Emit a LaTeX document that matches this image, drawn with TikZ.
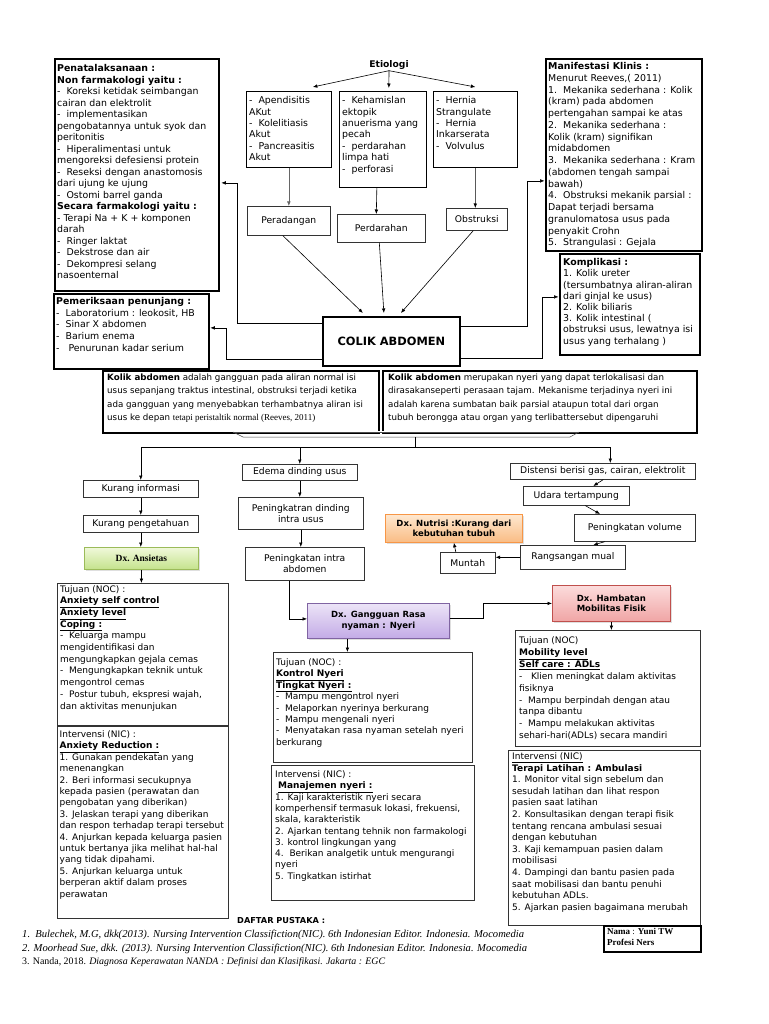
\documentclass[tikz,border=0pt]{standalone}
\usepackage{fontspec}
\setmainfont{DejaVu Sans}
\newfontfamily\tms{Liberation Serif}
\usetikzlibrary{arrows.meta,shadows,calc}
\definecolor{gtop}{HTML}{F0F9DA}\definecolor{gbot}{HTML}{C4E28C}\definecolor{gbd}{HTML}{9BBB59}
\definecolor{ptop}{HTML}{ECE4F7}\definecolor{pbot}{HTML}{C3ABE6}\definecolor{pbd}{HTML}{8064A2}
\definecolor{rtop}{HTML}{FCDCDC}\definecolor{rbot}{HTML}{F0A5A5}\definecolor{rbd}{HTML}{C0504D}
\definecolor{otop}{HTML}{FEE8D0}\definecolor{obot}{HTML}{F9BC84}\definecolor{obd}{HTML}{F79646}
\newcommand\mybox[6]{\node[#6, anchor=north west, minimum width={(#4-#2)*1pt}, minimum height={(#5-#3)*1pt}, inner sep=0pt] (#1) at (#2,#3) {};}
\newcommand\mytbox[7]{\node[#6, anchor=north west, minimum width={(#4-#2)*1pt}, minimum height={(#5-#3)*1pt}, inner sep=0pt] (#1) at (#2,#3) {#7};}
\tikzset{
  thk/.style={draw=black, line width=1.8pt, fill=white},
  thn/.style={draw=black, line width=0.7pt, fill=white},
  gb/.style={draw=black!80, line width=0.6pt, fill=white},
  flow/.style={draw=black!80, line width=0.6pt, fill=white, align=center, font=\fontsize{9.2}{11.4}\selectfont},
  txt/.style={anchor=north west, inner sep=0pt, align=left, execute at begin node={\rule{0pt}{7.1pt}}},
  arr/.style={-{Latex[length=4.5pt,width=3.6pt]}, line width=0.6pt, draw=black},
  ln/.style={line width=0.6pt, draw=black},
  dxs/.style={line width=0.8pt, align=center, drop shadow={opacity=0.25, shadow xshift=1.2pt, shadow yshift=-1.2pt}, font=\bfseries\fontsize{8.5}{10.6}\selectfont},
  dxg/.style={dxs, draw=gbd, top color=gtop, bottom color=gbot},
  dxp/.style={dxs, draw=pbd, top color=ptop, bottom color=pbot},
  dxr/.style={dxs, draw=rbd, top color=rtop, bottom color=rbot},
  dxo/.style={dxs, draw=obd, top color=otop, bottom color=obot},
}
\begin{document}
\begin{tikzpicture}[x=1pt,y=-1pt]
\useasboundingbox[fill=white] (0,0) rectangle (768,1024);

% ---------- top left
\mybox{pen}{54}{58}{218}{290}{thk}
\node[txt, font=\fontsize{9.4}{11.5}\selectfont] (pent) at (57,64.4) {\textbf{Penatalaksanaan :}\\
\textbf{Non farmakologi yaitu :}\\
-\ \ Koreksi ketidak seimbangan\\
cairan dan elektrolit\\
-\ \ implementasikan\\
pengobatannya untuk syok dan\\
peritonitis\\
-\ \ Hiperalimentasi untuk\\
mengoreksi defesiensi protein\\
-\ \ Reseksi dengan anastomosis\\
dari ujung ke ujung\\
-\ \ Ostomi barrel ganda\\
\textbf{Secara farmakologi yaitu :}\\
- Terapi Na + K + komponen\\
darah\\
-\ \ Ringer laktat\\
-\ \ Dekstrose dan air\\
-\ \ Dekompresi selang\\
nasoenternal};

\mybox{pem}{53}{293}{208}{368}{thk}
\node[txt, font=\fontsize{9.4}{11.6}\selectfont] (pemt) at (56,297.4) {\textbf{Pemeriksaan penunjang :}\\
-\ \ Laboratorium : leokosit, HB\\
-\ \ Sinar X abdomen\\
-\ \ Barium enema\\
-\ \ \ Penurunan kadar serium};

% ---------- etiologi
\node[font=\bfseries\fontsize{9.2}{11}\selectfont, inner sep=1pt] (etio) at (389,65) {Etiologi};
\mybox{eA}{246}{91}{331}{167}{thn}
\mybox{eB}{339}{91}{426}{187}{thn}
\mybox{eC}{433}{91}{517}{167}{thn}
\node[txt, font=\fontsize{9.4}{11.4}\selectfont] (eAt) at (249,96.4) {-\ \ Apendisitis\\AKut\\-\ \ Kolelitiasis\\Akut\\-\ \ Pancreasitis\\Akut};
\node[txt, font=\fontsize{9.4}{11.4}\selectfont] (eBt) at (342,96.4) {-\ \ Kehamislan\\ektopik\\anuerisma yang\\pecah\\-\ \ perdarahan\\limpa hati\\-\ \ perforasi};
\node[txt, font=\fontsize{9.4}{11.4}\selectfont] (eCt) at (436,96.4) {-\ \ Hernia\\Strangulate\\-\ \ Hernia\\Inkarserata\\-\ \ Volvulus};
\draw[arr] (etio.south) -- ($(eA.north)+(24,-4)$);
\draw[arr] (etio.south) -- ($(eB.north)+(6,-3)$);
\draw[arr] (etio.south) -- ($(eC.north)+(0,-4)$);

\mytbox{perad}{247}{206}{330}{235}{flow}{Peradangan}
\mytbox{perd}{337}{214}{425}{242}{flow}{Perdarahan}
\mytbox{obs}{446}{208}{507}{230}{flow}{Obstruksi}
\draw[arr, draw=black!60] (eA.south) -- (eA.south |- perad.north);
\draw[arr] ($(eB.south)+(-6,0)$) -- ($(perd.north)+(-5,0)$);
\draw[arr] (eC.south) -- ($(obs.north)+(-1.5,0)$);

% ---------- colik
\mytbox{colik}{322}{316}{459}{365}{thk, font=\bfseries\fontsize{11.4}{13}\selectfont}{COLIK ABDOMEN}
\draw[arr] ($(perad.south)+(-6,0)$) -- ($(colik.north)+(-28.5,-3)$);
\draw[arr] ($(perd.south)+(-2,0)$) -- ($(colik.north)+(-7.5,-3)$);
\draw[arr] ($(obs.south)+(-3.5,0)$) -- ($(colik.north)+(9.5,-3)$);

% ---------- right top
\mybox{man}{545}{58}{701}{250}{thk}
\node[txt, font=\fontsize{9.4}{11.75}\selectfont] (mant) at (548,62.4) {\textbf{Manifestasi Klinis :}\\
Menurut Reeves,( 2011)\\
1.\ \ Mekanika sederhana : Kolik\\
(kram) pada abdomen\\
pertengahan sampai ke atas\\
2.\ \ Mekanika sederhana :\\
Kolik (kram) signifikan\\
midabdomen\\
3.\ \ Mekanika sederhana : Kram\\
(abdomen tengah sampai\\
bawah)\\
4.\ \ Obstruksi mekanik parsial :\\
Dapat terjadi bersama\\
granulomatosa usus pada\\
penyakit Crohn\\
5.\ \ Strangulasi : Gejala};

\mybox{kom}{559}{253}{699}{354}{thk}
\node[txt, font=\fontsize{9.4}{11.2}\selectfont] (komt) at (563,258.4) {\textbf{Komplikasi :}\\
1. Kolik ureter\\
(tersumbatnya aliran-aliran\\
dari ginjal ke usus)\\
2. Kolik biliaris\\
3. Kolik intestinal (\\
obstruksi usus, lewatnya isi\\
usus yang terhalang )};

% ---------- connectors from colik
\draw[arr] ($(colik.north west)+(0,7)$) -| ($(pen.east)+(17,8)$) -- ($(pen.east)+(1.5,8)$);
\draw[arr] ($(colik.south west)+(0,-8)$) -| ($(pem.east)+(16,-3.5)$) -- ($(pem.east)+(0.5,-3.5)$);
\draw[arr] ($(colik.north east)+(0,10)$) -| ($(man.west)+(-18,26)$) -- ($(man.west)+(-0.5,26)$);
\draw[arr] ($(colik.south east)+(0,-9)$) -| ($(kom.west)+(-17,-7.5)$) -- ($(kom.west)+(-0.5,-7.5)$);

% ---------- definitions
\mybox{defL}{102}{370}{378}{432}{thk}
\mybox{defR}{382}{370}{696}{432}{thk}
\node[txt, font=\fontsize{8.7}{13.4}\selectfont] (defLt) at (107,373.7) {\textbf{Kolik abdomen} adalah gangguan pada aliran normal isi\\
usus sepanjang traktus intestinal, obstruksi terjadi ketika\\
ada gangguan yang menyebabkan terhambatnya aliran isi\\
usus ke depan {\tms\fontsize{9}{13.4}\selectfont tetapi peristaltik normal (Reeves, 2011)}};
\node[txt, font=\fontsize{8.7}{13.4}\selectfont] (defRt) at (388,373.7) {\textbf{Kolik abdomen} merupakan nyeri yang dapat terlokalisasi dan\\
dirasakanseperti perasaan tajam. Mekanisme terjadinya nyeri ini\\
adalah karena sumbatan baik parsial ataupun total dari organ\\
tubuh berongga atau organ yang terlibattersebut dipengaruhi};
\fill[white] (233,430.7) rectangle (579,433.3);
\draw[line width=0.5pt, draw=black!70] (233,432) -- (579,432);
\draw[line width=0.5pt, draw=black!70] (233,432) -- (243,437) -- (570,437) -- (579,432);
\coordinate (brace) at (415,437);
\coordinate (hub) at (415,447);

% ---------- middle flows
\mytbox{kinf}{83}{480}{198}{497}{flow}{Kurang informasi}
\mytbox{kpen}{83}{515}{198}{532}{flow}{Kurang pengetahuan}
\mytbox{ansi}{84}{547}{198}{569}{dxg, font=\tms\bfseries\fontsize{9.5}{11}\selectfont}{Dx. Ansietas}
\mytbox{edema}{242}{464}{357}{480}{flow}{Edema dinding usus}
\mytbox{peningD}{238}{497}{363}{529}{flow}{Peningkatran dinding\\intra usus}
\mytbox{peningI}{245}{547}{364}{580}{flow}{Peningkatan intra\\abdomen}
\mytbox{dist}{510}{463}{695}{479}{flow}{Distensi berisi gas, cairan, elektrolit}
\mytbox{udara}{523}{486}{629}{505}{flow}{Udara tertampung}
\mytbox{vol}{574}{514}{695}{541}{flow}{Peningkatan volume}
\mytbox{rang}{520}{545}{625}{569}{flow}{Rangsangan mual}
\mytbox{muntah}{440}{552}{495}{573}{flow}{Muntah}
\mytbox{nutri}{385}{514}{522}{542}{dxo}{Dx. Nutrisi :Kurang dari\\kebutuhan tubuh}
\mytbox{gang}{307}{603}{449}{638}{dxp}{Dx. Gangguan Rasa\\nyaman : Nyeri}
\mytbox{hamb}{552}{585}{670}{621}{dxr}{Dx. Hambatan\\Mobilitas Fisik}

\draw[ln] (brace) -- (hub);
\draw[arr] (hub) -| (kinf.north);
\draw[arr] (hub) -| (edema.north);
\draw[arr] (hub) -| ($(dist.north)+(7.5,0)$);
\draw[arr] (kinf.south) -- (kpen.north);
\draw[arr] (kpen.south) -- (kpen.south |- ansi.north);
\draw[arr] (edema.south) -- (edema.south |- peningD.north);
\draw[arr] (peningD.south) -- (peningD.south |- peningI.north);
\draw[arr] ($(dist.south)+(0.5,0)$) -- ($(udara.north)+(17,0)$);
\draw[arr] ($(udara.south)+(9,0)$) -- ($(vol.north west)+(26,0)$);
\draw[arr] ($(vol.south west)+(31,0)$) -- ($(rang.north)+(20.5,0)$);
\draw[arr] (rang.west) -- (rang.west -| muntah.east);
\draw[arr] ($(muntah.north)+(-12,0)$) -- (nutri.south);
\draw[arr] ($(peningI.south)+(-15.5,0)$) |- ($(gang.west)+(0,-2)$);
\draw[arr] ($(gang.east)+(0,-3)$) -- ++(33,0) |- (hamb.west);

% ---------- lower boxes
\mybox{nocL}{57}{583}{228}{725}{gb}
\mybox{nicL}{57}{726}{228}{918}{gb}
\mybox{nocM}{273}{652}{472}{762}{gb}
\mybox{nicM}{271}{765}{474}{900}{gb}
\mybox{nocR}{515}{630}{700}{746}{gb}
\mybox{nicR}{508}{750}{700}{925}{gb}
\draw[arr] (ansi.south) -- (ansi.south |- nocL.north);
\coordinate (gs) at ($(gang.south)+(-31,0)$);
\draw[arr] (gs) -- (gs |- nocM.north);
\draw[arr] (hamb.south) -- (hamb.south |- nocR.north);

\node[txt, font=\fontsize{9}{11.7}\selectfont] (nocLt) at (60,585) {Tujuan (NOC) :\\
\underline{\textbf{Anxiety self control}}\\
\underline{\textbf{Anxiety level}}\\
\underline{\textbf{Coping :}}\\
-\ \ Keluarga mampu\\
mengidentifikasi dan\\
mengungkapkan gejala cemas\\
-\ \ Mengungkapkan teknik untuk\\
mengontrol cemas\\
-\ \ Postur tubuh, ekspresi wajah,\\
dan aktivitas menunjukan};

\node[txt, font=\fontsize{9}{11.4}\selectfont] (nicLt) at (59.5,730.5) {Intervensi (NIC) :\\
\underline{\textbf{Anxiety Reduction :}}\\
1. Gunakan pendekatan yang\\
menenangkan\\
2. Beri informasi secukupnya\\
kepada pasien (perawatan dan\\
pengobatan yang diberikan)\\
3. Jelaskan terapi yang diberikan\\
dan respon terhadap terapi tersebut\\
4. Anjurkan kepada keluarga pasien\\
untuk bertanya jika melihat hal-hal\\
yang tidak dipahami.\\
5. Anjurkan keluarga untuk\\
berperan aktif dalam proses\\
perawatan};

\node[txt, font=\fontsize{9}{11.4}\selectfont] (nocMt) at (276,658.5) {Tujuan (NOC) :\\
\underline{\textbf{Kontrol Nyeri}}\\
\underline{\textbf{Tingkat Nyeri :}}\\
-\ \ Mampu mengontrol nyeri\\
-\ \ Melaporkan nyerinya berkurang\\
-\ \ Mampu mengenali nyeri\\
-\ \ Menyatakan rasa nyaman setelah nyeri\\
berkurang};

\node[txt, font=\fontsize{9}{11.3}\selectfont] (nicMt) at (275,770.5) {Intervensi (NIC) :\\
\hspace{3pt}\underline{\textbf{Manajemen nyeri :}}\\
1. Kaji karakteristik nyeri secara\\
komperhensif termasuk lokasi, frekuensi,\\
skala, karakteristik\\
2. Ajarkan tentang tehnik non farmakologi\\
3. kontrol lingkungan yang\\
4.\ \ Berikan analgetik untuk mengurangi\\
nyeri\\
5. Tingkatkan istirhat};

\node[txt, font=\fontsize{9}{11.9}\selectfont] (nocRt) at (519,636.5) {Tujuan (NOC)\\
\underline{\textbf{Mobility level}}\\
\underline{\textbf{Self care : ADLs}}\\
-\ \ \ Klien meningkat dalam aktivitas\\
fisiknya\\
-\ \ Mampu berpindah dengan atau\\
tanpa dibantu\\
-\ \ Mampu melakukan aktivitas\\
sehari-hari(ADLs) secara mandiri};

\node[txt, font=\fontsize{9}{11.6}\selectfont] (nicRt) at (512,752.5) {\underline{Intervensi (NIC)}\\
\textbf{Terapi Latihan : Ambulasi}\\
1. Monitor vital sign sebelum dan\\
sesudah latihan dan lihat respon\\
pasien saat latihan\\
2. Konsultasikan dengan terapi fisik\\
tentang rencana ambulasi sesuai\\
dengan kebutuhan\\
3. Kaji kemampuan pasien dalam\\
mobilisasi\\
4. Dampingi dan bantu pasien pada\\
saat mobilisasi dan bantu penuhi\\
kebutuhan ADLs.\\
5. Ajarkan pasien bagaimana merubah};

% ---------- bottom
\node[anchor=west, inner sep=0pt, font=\bfseries\fontsize{8.2}{10}\selectfont] (dp) at (237,921) {DAFTAR PUSTAKA :};
\node[anchor=west, inner sep=0pt, font=\tms\itshape\fontsize{10.6}{12}\selectfont] (r1) at (22,935) {1.\ \ Bulechek, M.G, dkk(2013). Nursing Intervention Classifiction(NIC). 6th Indonesian Editor. Indonesia. Mocomedia};
\node[anchor=west, inner sep=0pt, font=\tms\itshape\fontsize{10.6}{12}\selectfont] (r2) at (22,948.5) {2. Moorhead Sue, dkk. (2013). Nursing Intervention Classifiction(NIC). 6th Indonesian Editor. Indonesia. Mocomedia};
\node[anchor=west, inner sep=0pt, font=\tms\fontsize{9.9}{11}\selectfont] (r3) at (22,962) {3. Nanda, 2018. \textit{Diagnosa Keperawatan NANDA : Definisi dan Klasifikasi. Jakarta : EGC}};
\mybox{nama}{603}{925}{700}{951}{thk}
\node[txt, font=\tms\fontsize{9}{11}\selectfont, execute at begin node={}] (namat) at (607,928) {\textbf{Nama} : \textbf{Yuni TW}\\\textbf{Profesi Ners}};
\end{tikzpicture}
\end{document}
